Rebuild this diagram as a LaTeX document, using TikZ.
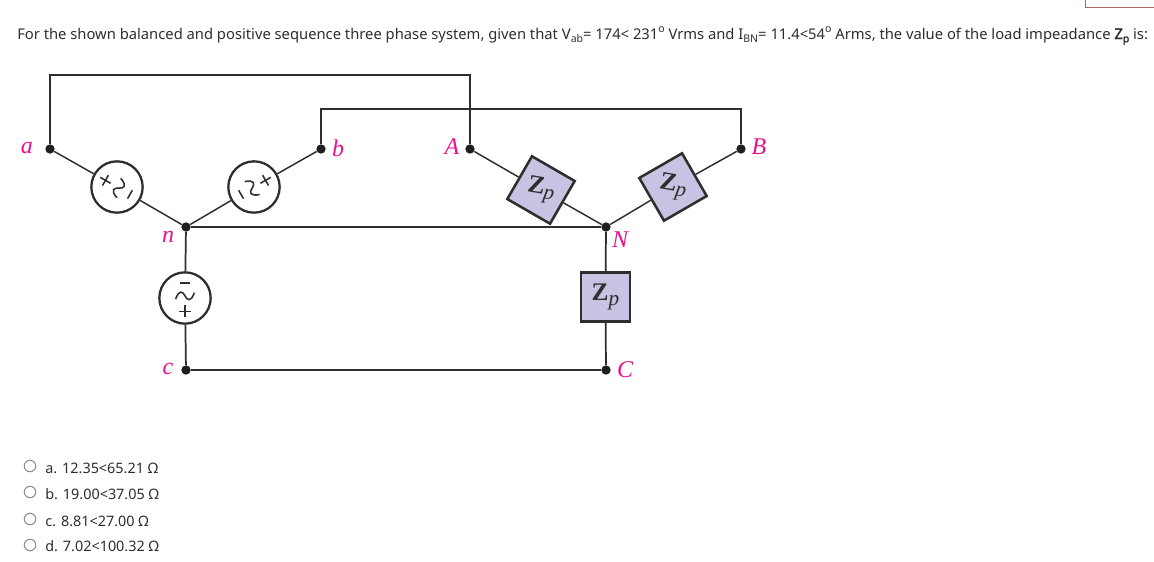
\documentclass[tikz,border=0pt]{standalone}
\usepackage{fontspec}
\usepackage{graphicx}
\setmainfont{Noto Sans}
\newfontfamily\labfont{Liberation Serif}
\definecolor{wire}{HTML}{2E2E2E}
\definecolor{lab}{HTML}{EC108F}
\definecolor{zfill}{HTML}{C6C4E2}
\definecolor{txt}{HTML}{2B2F33}
\definecolor{radio}{HTML}{8A8F94}
\definecolor{frameline}{HTML}{B5645A}
\tikzset{
  x=0.75pt,y=-0.75pt,
  wireline/.style={draw=wire,line width=1.3pt},
  thinwire/.style={draw=wire,line width=1.1pt},
  term/.style={circle,fill=black!88,inner sep=0pt,minimum size=7pt},
  srcbox/.style={circle,draw=wire,line width=1.7pt,fill=white,inner sep=0pt,minimum size=38.5pt},
  zbox/.style={rectangle,draw=wire,line width=1.9pt,fill=zfill,inner sep=0pt,minimum size=37pt,text=wire,font=\labfont\fontsize{19}{19}\selectfont},
  termlab/.style={inner sep=0pt,text=lab,font=\labfont\itshape\fontsize{18}{18}\selectfont},
  bodytext/.style={inner sep=0pt,anchor=base west,text=txt,font=\fontsize{11.07}{13}\selectfont},
  opttext/.style={bodytext,font=\fontsize{10.8}{13}\selectfont},
  optradio/.style={circle,draw=radio,line width=0.8pt,inner sep=0pt,minimum size=8.6pt},
}
\newcommand{\srcsign}[2]{%
  \begin{scope}[shift={(#1)},rotate=#2,draw=wire,line width=1.15pt]
    \draw (-3.6pt,11.2pt) -- (3.6pt,11.2pt);
    \draw (-4.5pt,-10pt) -- (4.5pt,-10pt);
    \draw (0pt,-14.5pt) -- (0pt,-5.5pt);
    \draw (-7pt,-0.8pt) .. controls (-4.5pt,6.5pt) and (-1.6pt,5pt) .. (0pt,1.6pt) .. controls (1.6pt,-1.8pt) and (4.5pt,-3.3pt) .. (7pt,4pt);
  \end{scope}}
\newcommand{\sbs}[1]{\raisebox{-0.22em}{\fontsize{7.9}{8}\selectfont #1}}
\newcommand{\sps}[1]{\raisebox{0.42em}{\fontsize{7.9}{8}\selectfont #1}}
\newcommand{\zp}{\textbf{Z}\textit{\raisebox{-0.2em}{\fontsize{16}{16}\selectfont p}}}
\begin{document}
\begin{tikzpicture}
\useasboundingbox (0,0) rectangle (1154,561);
\fill[white] (0,0) rectangle (1154,561);

% terminals
\node[term] (a) at (50,149) {};
\node[term] (b) at (321,149) {};
\node[term] (n) at (186,227) {};
\node[term] (c) at (186,370) {};
\node[term] (A) at (470,149) {};
\node[term] (B) at (741,149) {};
\node[term] (N) at (606,227) {};
\node[term] (C) at (606,370) {};

% rails
\coordinate (ta) at (50,75);
\coordinate (tA) at (470,75);
\coordinate (tb) at (321,109);
\coordinate (tB) at (741,109);

% sources and loads
\node[srcbox] (sa) at (117,187) {};
\node[srcbox] (sb) at (254,187) {};
\node[srcbox] (sc) at (185,298) {};
\node[zbox,rotate=-30] (zA) at (541,190) {\rotatebox[origin=c]{20}{\zp}};
\node[zbox,rotate=30] (zB) at (673,187) {\rotatebox[origin=c]{-40}{\zp}};
\node[zbox] (zC) at (605.5,297) {\zp};

% connectors
\draw[wireline] (a) -- (ta) -- (tA) -- (A);
\draw[wireline] (b) -- (tb) -- (tB) -- (B);
\draw[wireline] (n) -- (N);
\draw[wireline] (c) -- (C);
\draw[thinwire] (a) -- (sa);
\draw[thinwire] (sa) -- (n);
\draw[thinwire] (b) -- (sb);
\draw[thinwire] (sb) -- (n);
\draw[wireline] (n) -- (sc);
\draw[wireline] (sc) -- (c);
\draw[thinwire] (A) -- (zA);
\draw[thinwire] (zA) -- (N);
\draw[thinwire] (B) -- (zB);
\draw[thinwire] (zB) -- (N);
\draw[wireline] (N) -- (zC);
\draw[wireline] (zC) -- (C);

% source signs: + toward the terminal
\srcsign{sc}{0}
\srcsign{sa}{-120}
\srcsign{sb}{120}

% terminal labels
\node[termlab] (la) at (27,148) {a};
\node[termlab] (lb) at (338,148) {b};
\node[termlab] (ln) at (168,237) {n};
\node[termlab] (lc) at (168,369) {c};
\node[termlab] (lA) at (452,147) {A};
\node[termlab] (lB) at (759,147) {B};
\node[termlab] (lN) at (620,240) {N};
\node[termlab] (lC) at (625,370) {C};

% question
\node[bodytext] (q) at (17,39) {For the shown balanced and positive sequence three phase system, given that V\sbs{ab}= 174< 231\sps{o} Vrms and I\sbs{BN}= 11.4<54\sps{o} Arms, the value of the load impeadance {\addfontfeature{FakeBold=2}Z\sbs{p}} is:};

% options
\node[optradio] (ra) at (30,466) {};
\node[optradio] (rb) at (30,492) {};
\node[optradio] (rc) at (30,519) {};
\node[optradio] (rd) at (30,545) {};
\node[opttext] (oa) at (45,473) {a. 12.35<65.21 Ω};
\node[opttext] (ob) at (45,499) {b. 19.00<37.05 Ω};
\node[opttext] (oc) at (45,526) {c. 8.81<27.00 Ω};
\node[opttext] (od) at (45,551) {d. 7.02<100.32 Ω};

% clipped box at the top right
\draw[frameline,line width=1pt] (1085.5,0) -- (1085.5,7.4) -- (1154,7.4);
\end{tikzpicture}
\end{document}
